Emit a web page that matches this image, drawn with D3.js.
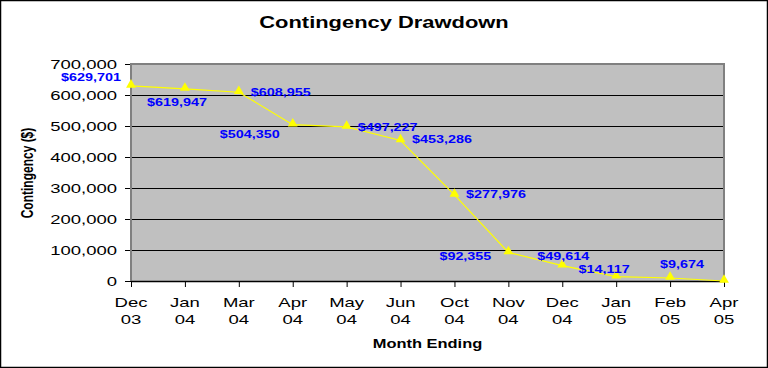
<!DOCTYPE html>
<html>
<head>
<meta charset="utf-8">
<script src="https://cdn.jsdelivr.net/npm/d3@7.9.0/dist/d3.min.js"></script>
<style>
  html, body { margin: 0; padding: 0; background: #fff; }
  svg { display: block; font-family: "Liberation Sans", Arial, sans-serif; }
</style>
</head>
<body>
<svg id="chart" width="768" height="368"></svg>
<script>
// data
const months = ['Dec 03', 'Jan 04', 'Mar 04', 'Apr 04', 'May 04', 'Jun 04',
                'Oct 04', 'Nov 04', 'Dec 04', 'Jan 05', 'Feb 05', 'Apr 05'];
const contingency = [629701, 619947, 608955, 504350, 497227, 453286,
                     277976, 92355, 49614, 14117, 9674, 0];
const labelTexts = ['$629,701', '$619,947', '$608,955', '$504,350', '$497,227', '$453,286',
                    '$277,976', '$92,355', '$49,614', '$14,117', '$9,674', ''];
const yTicks = [0, 100000, 200000, 300000, 400000, 500000, 600000, 700000];

// where each data label sits relative to its point (centre offset, px)
const labelOffsets = [[-40, -9], [-8, 13], [42, 0], [-43, 9.5], [41, 0], [41.5, -1.5],
                      [41.5, -1], [-43, 3.5], [1, -9.5], [-12, -7.5], [12, -14], [0, 0]];

// the original picture is stretched sideways, so text is too
const SX = 1.37;

const svg = d3.select('#chart');
const plot = { left: 131, right: 724, top: 64, bottom: 281 };

const x = d3.scalePoint().domain(months).range([plot.left, plot.right]);
const y = d3.scaleLinear().domain([0, 700000]).range([plot.bottom, plot.top]);

// outer frame
svg.append('rect')
  .attr('x', 0.5).attr('y', 0.5).attr('width', 767).attr('height', 367)
  .attr('fill', '#fff').attr('stroke', '#000').attr('stroke-width', 1.5);

// plot area
svg.append('rect')
  .attr('x', plot.left).attr('y', plot.top)
  .attr('width', plot.right - plot.left).attr('height', plot.bottom - plot.top)
  .attr('fill', '#c0c0c0');

// gridlines
svg.append('g')
  .selectAll('line')
  .data(yTicks.filter(d => d > 0 && d < 700000))
  .join('line')
  .attr('x1', plot.left).attr('x2', plot.right)
  .attr('y1', d => Math.round(y(d)) + 0.5).attr('y2', d => Math.round(y(d)) + 0.5)
  .attr('stroke', '#000').attr('stroke-width', 1);

// y axis
const yAxis = svg.append('g')
  .attr('transform', `translate(${plot.left},0)`)
  .call(d3.axisLeft(y).tickValues(yTicks).tickSize(6).tickSizeOuter(0).tickFormat(d3.format(',')));
yAxis.select('.domain').remove();
yAxis.selectAll('.tick line').attr('stroke', '#000');
yAxis.selectAll('.tick text')
  .attr('font-size', 13.5).attr('fill', '#000')
  .attr('x', null).attr('dy', '0.36em')
  .attr('transform', `translate(-14,0) scale(${SX},1)`);

// plot border (grey) on top, left, right
svg.append('path')
  .attr('d', `M${plot.left},${plot.bottom} V${plot.top} H${plot.right} V${plot.bottom}`)
  .attr('fill', 'none').attr('stroke', '#808080').attr('stroke-width', 2);

// x axis
const xAxis = svg.append('g')
  .attr('transform', `translate(0,${plot.bottom})`)
  .call(d3.axisBottom(x).tickSize(6).tickSizeOuter(0).tickFormat(''));
xAxis.select('.domain').attr('stroke', '#000').attr('stroke-width', 1.5);
xAxis.selectAll('.tick line').attr('stroke', '#000');

const xLab = svg.append('g');
months.forEach(m => {
  const parts = m.split(' ');
  parts.forEach((p, i) => {
    xLab.append('text')
      .attr('transform', `translate(${x(m)},${302.5 + i * 17}) scale(${SX},1)`)
      .attr('dy', '0.36em')
      .attr('text-anchor', 'middle')
      .attr('font-size', 13.5)
      .text(p);
  });
});

// line
const line = d3.line().x((d, i) => x(months[i])).y(d => y(d));
svg.append('path')
  .datum(contingency)
  .attr('d', line)
  .attr('fill', 'none').attr('stroke', '#ffff00').attr('stroke-width', 1.2);

// triangle markers
const tri = d3.symbol().type(d3.symbolTriangle).size(42);
svg.append('g')
  .selectAll('path')
  .data(contingency)
  .join('path')
  .attr('d', tri)
  .attr('transform', (d, i) => `translate(${x(months[i])},${y(d) - 1})`)
  .attr('fill', '#ffff00');

// data labels
svg.append('g')
  .selectAll('text')
  .data(contingency)
  .join('text')
  .attr('transform', (d, i) =>
    `translate(${x(months[i]) + labelOffsets[i][0]},${y(d) + labelOffsets[i][1]}) scale(${SX},1)`)
  .attr('dy', '0.36em')
  .attr('text-anchor', 'middle')
  .attr('font-size', 10.5).attr('font-weight', 'bold')
  .attr('fill', '#0000ff')
  .text((d, i) => labelTexts[i]);

// title
svg.append('text')
  .attr('transform', `translate(384,22) scale(${SX},1)`)
  .attr('dy', '0.36em').attr('text-anchor', 'middle')
  .attr('font-size', 16).attr('font-weight', 'bold')
  .text('Contingency Drawdown');

// axis titles
svg.append('text')
  .attr('transform', `translate(${(plot.left + plot.right) / 2},344) scale(${SX},1)`)
  .attr('dy', '0.36em').attr('text-anchor', 'middle')
  .attr('font-size', 12).attr('font-weight', 'bold')
  .text('Month Ending');

svg.append('text')
  .attr('transform', `translate(27,173) scale(${SX},1) rotate(-90)`)
  .attr('dy', '0.36em').attr('text-anchor', 'middle')
  .attr('font-size', 12).attr('font-weight', 'bold')
  .text('Contingency ($)');
</script>
</body>
</html>
